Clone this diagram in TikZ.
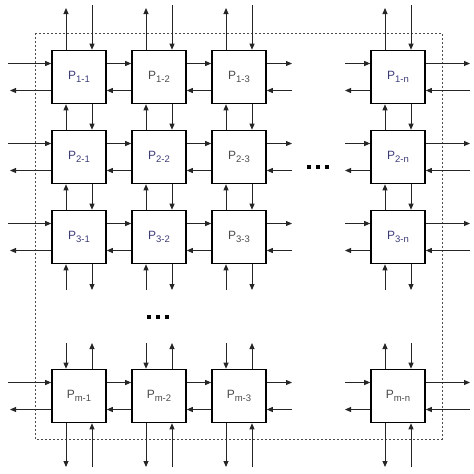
\documentclass[tikz,border=0pt]{standalone}
\usepackage{fontspec}
\setmainfont{Liberation Sans}
\usetikzlibrary{arrows.meta,calc}
\definecolor{lblue}{HTML}{3B3B78}
\definecolor{lgray}{HTML}{4A4A4A}
\newcommand{\plab}[2]{P\raisebox{-2.6pt}{\fontsize{9.5}{10}\selectfont #1-#2}}
\begin{document}
\begin{tikzpicture}[x=1pt,y=-1pt,
  proc/.style={draw, line width=1.6pt, minimum width=54pt, minimum height=53pt, inner sep=0pt, font=\fontsize{12}{14}\selectfont},
  arr/.style={-{Triangle[length=6pt,width=5pt]}, line width=0.9pt, draw=black!85, fill=black!85},
  frame/.style={draw=black!70, line width=0.9pt, dash pattern=on 2pt off 2pt},
  dotsq/.style={fill=black},
]
\useasboundingbox (0,0) rectangle (474,474);
\draw[frame] (35,33) rectangle (442,439);

% processors
\node[proc, text=lblue] (b11) at (79,77)  {\plab{1}{1}};
\node[proc, text=lgray] (b12) at (159,77) {\plab{1}{2}};
\node[proc, text=lgray] (b13) at (239,77) {\plab{1}{3}};
\node[proc, text=lblue] (b1n) at (398,77) {\plab{1}{n}};
\node[proc, text=lblue] (b21) at (79,157)  {\plab{2}{1}};
\node[proc, text=lblue] (b22) at (159,157) {\plab{2}{2}};
\node[proc, text=lgray] (b23) at (239,157) {\plab{2}{3}};
\node[proc, text=lblue] (b2n) at (398,157) {\plab{2}{n}};
\node[proc, text=lblue] (b31) at (79,237)  {\plab{3}{1}};
\node[proc, text=lblue] (b32) at (159,237) {\plab{3}{2}};
\node[proc, text=lgray] (b33) at (239,237) {\plab{3}{3}};
\node[proc, text=lblue] (b3n) at (398,237) {\plab{3}{n}};
\node[proc, text=lgray] (bm1) at (79,396)  {\plab{m}{1}};
\node[proc, text=lgray] (bm2) at (159,396) {\plab{m}{2}};
\node[proc, text=lgray] (bm3) at (239,396) {\plab{m}{3}};
\node[proc, text=lgray] (bmn) at (398,396) {\plab{m}{n}};

% horizontal connectors
\foreach \r/\y in {1/77,2/157,3/237,m/396}{
  \coordinate (hla\r) at (8,\y-13.5);
  \coordinate (hlb\r) at (10,\y+13.5);
  \coordinate (h3a\r) at (292,\y-13.5);
  \coordinate (h3b\r) at (292,\y+13.5);
  \coordinate (hna\r) at (345,\y-13.5);
  \coordinate (hnb\r) at (345,\y+13.5);
  \coordinate (hra\r) at (470,\y-13.5);
  \coordinate (hrb\r) at (470,\y+13.5);
  \draw[arr] (hla\r) -- ([yshift=13.5pt]b\r1.west);
  \draw[arr] ([yshift=-13.5pt]b\r1.west) -- (hlb\r);
  \draw[arr] ([yshift=13.5pt]b\r1.east) -- ([yshift=13.5pt]b\r2.west);
  \draw[arr] ([yshift=-13.5pt]b\r2.west) -- ([yshift=-13.5pt]b\r1.east);
  \draw[arr] ([yshift=13.5pt]b\r2.east) -- ([yshift=13.5pt]b\r3.west);
  \draw[arr] ([yshift=-13.5pt]b\r3.west) -- ([yshift=-13.5pt]b\r2.east);
  \draw[arr] ([yshift=13.5pt]b\r3.east) -- (h3a\r);
  \draw[arr] (h3b\r) -- ([yshift=-13.5pt]b\r3.east);
  \draw[arr] (hna\r) -- ([yshift=13.5pt]b\r n.west);
  \draw[arr] ([yshift=-13.5pt]b\r n.west) -- (hnb\r);
  \draw[arr] ([yshift=13.5pt]b\r n.east) -- (hra\r);
  \draw[arr] (hrb\r) -- ([yshift=-13.5pt]b\r n.east);
}

% vertical connectors
\foreach \c/\x in {1/79,2/159,3/239,n/398}{
  \coordinate (vta\c) at (\x-13,8);
  \coordinate (vtb\c) at (\x+13,5);
  \coordinate (vma\c) at (\x-13,290);
  \coordinate (vmb\c) at (\x+13,290);
  \coordinate (vna\c) at (\x-13,343);
  \coordinate (vnb\c) at (\x+13,343);
  \coordinate (vba\c) at (\x-13,467);
  \coordinate (vbb\c) at (\x+13,467);
  \draw[arr] ([xshift=-13pt]b1\c.north) -- (vta\c);
  \draw[arr] (vtb\c) -- ([xshift=13pt]b1\c.north);
  \draw[arr] ([xshift=-13pt]b2\c.north) -- ([xshift=-13pt]b1\c.south);
  \draw[arr] ([xshift=13pt]b1\c.south) -- ([xshift=13pt]b2\c.north);
  \draw[arr] ([xshift=-13pt]b3\c.north) -- ([xshift=-13pt]b2\c.south);
  \draw[arr] ([xshift=13pt]b2\c.south) -- ([xshift=13pt]b3\c.north);
  \draw[arr] (vma\c) -- ([xshift=-13pt]b3\c.south);
  \draw[arr] ([xshift=13pt]b3\c.south) -- (vmb\c);
  \draw[arr] ([xshift=-13pt]bm\c.south) -- (vba\c);
  \draw[arr] (vbb\c) -- ([xshift=13pt]bm\c.south);
}
\foreach \c in {1,2,3}{
  \draw[arr] (vna\c) -- ([xshift=-13pt]bm\c.north);
  \draw[arr] ([xshift=13pt]bm\c.north) -- (vnb\c);
}
\draw[arr] ([xshift=-13pt]bmn.north) -- (vnan);
\draw[arr] (vnbn) -- ([xshift=13pt]bmn.north);

% ellipses
\foreach \x in {309,318,327}{\fill[dotsq] (\x-1.6,165.4) rectangle ++(3.2,3.2);}
\foreach \x in {149,158,167}{\fill[dotsq] (\x-1.6,315.4) rectangle ++(3.2,3.2);}
\end{tikzpicture}
\end{document}
